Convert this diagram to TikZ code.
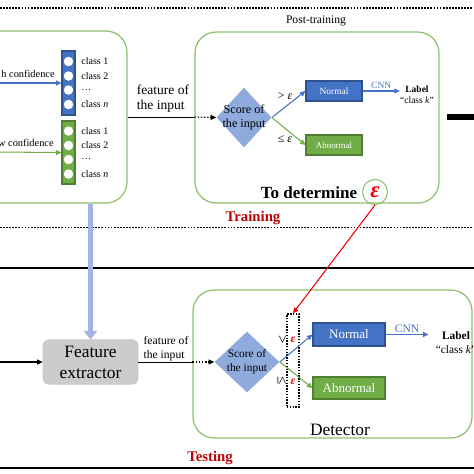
\documentclass[tikz,border=0pt]{standalone}
\usepackage{fontspec}
\setmainfont{Liberation Serif}
\usetikzlibrary{arrows.meta}
\usetikzlibrary{positioning}
\usetikzlibrary{shapes.geometric}
\definecolor{leafgreen}{HTML}{8DC06B}
\definecolor{normblue}{HTML}{4472C4}
\definecolor{normedge}{HTML}{2F528F}
\definecolor{abngreen}{HTML}{70AD47}
\definecolor{abnedge}{HTML}{507E32}
\definecolor{scoreblue}{HTML}{8FAADC}
\definecolor{paleblue}{HTML}{A3B4E4}
\definecolor{darkred}{HTML}{C00000}
\definecolor{brightred}{HTML}{F00000}
\newcommand{\fsz}[2]{\fontsize{#1}{#2}\selectfont}

\begin{document}
\begin{tikzpicture}[
        x=0.02cm, y=-0.02cm,
        grpbox/.style={draw=leafgreen, line width=0.7pt, rounded corners=0.42cm},
        vecbox/.style={minimum width=0.26cm, inner sep=0pt, line width=0.6pt},
        unit/.style={circle, fill=white, minimum size=0.19cm, inner sep=0pt},
        clslbl/.style={font=\fsz{5.7}{6.5}, anchor=west, inner sep=0pt},
        decide/.style={diamond, fill=scoreblue, inner sep=0pt},
        outbox/.style={draw, line width=0.6pt, text=white, inner sep=0pt},
        flow/.style={-{Triangle[length=1.1mm, width=1mm]}, line width=0.6pt},
        feed/.style={-{Triangle[length=1.1mm, width=1mm]}, line width=0.6pt,
          dash pattern=on 0.9pt off 0.9pt},
        sep/.style={line width=1.1pt},
        dotsep/.style={line width=1.1pt, dash pattern=on 1pt off 0.75pt},
        phase/.style={font=\fsz{8.4}{9}\bfseries, text=darkred},
        epstxt/.style={font=\fsz{6.5}{7}\bfseries\itshape, text=brightred, inner sep=0pt},
      ]
      \useasboundingbox (0,0) rectangle (474,474);
      \clip (0,0) rectangle (474,474);

      % === separators ===
      \draw[dotsep] (0,8) -- (474,8);
      \draw[dotsep] (0,227.5) -- (474,227.5);
      \draw[sep] (0,268) -- (474,268);
      \draw[sep] (0,468) -- (474,468);

      % === Training: classifier ===
      \node[grpbox, minimum width=3.34cm, minimum height=3.44cm] (leftbox) at (43.5,117) {};
      \node[vecbox, draw=normedge, fill=normblue, minimum height=1.28cm] (bluecol) at (68.5,83) {};
      \node[vecbox, draw=abnedge, fill=abngreen, minimum height=1.26cm] (greencol) at (68.5,152.5) {};
      \foreach \c/\y in {blue/83, green/152.5} {
        \foreach \i/\dy/\t in {1/-21.5/class 1, 2/-7/class 2, 3/7/\dots, 4/21.5/class \textit{n}} {
          \node[unit] (\c u\i) at (68.5,\y+\dy) {};
          \node[clslbl] (\c l\i) at (81,\y+\dy) {\t};
        }
      }
      \coordinate (hiin) at (-5,83);
      \coordinate (loin) at (-5,152);
      \draw[flow, normblue] (hiin) -- (bluecol.west);
      \draw[flow, abngreen] (loin) -- (greencol.west);
      \node[font=\fsz{5.9}{7}, anchor=east, inner sep=0pt] (hilbl) at (55,74) {h confidence};
      \node[font=\fsz{5.9}{7}, anchor=east, inner sep=0pt] (lolbl) at (54,143) {w confidence};

      % === Training: post-training ===
      \node[grpbox, minimum width=4.88cm, minimum height=3.42cm] (postbox) at (317,117.5) {};
      \node[font=\fsz{6.6}{7}] (postlbl) at (316,21) {Post-training};

      \node[decide, minimum width=1.1cm, minimum height=1.2cm] (dec1) at (244,117.5) {};
      \node[font=\fsz{6.9}{8.4}, align=center, inner sep=0pt] (dec1t) at (dec1) {Score of\\the input};

      \draw (leftbox.east) -- (leftbox.east -| postbox.west);
      \draw[feed] (leftbox.east -| postbox.west) -- (dec1.west);
      \node[font=\fsz{7.7}{8.6}, align=left, inner sep=0pt] (feat1) at (163,99) {feature of\\the input};

      \node[outbox, draw=normedge, fill=normblue, minimum width=1.12cm, minimum height=0.4cm,
        font=\fsz{5.4}{6}] (n1) at (334,91) {Normal};
      \node[outbox, draw=abnedge, fill=abngreen, minimum width=1.12cm, minimum height=0.4cm,
        font=\fsz{5.1}{6}] (a1) at (334,145) {Abnormal};
      \draw[flow, normblue] (dec1.east) -- (n1.west);
      \draw[flow, abngreen] (dec1.east) -- (a1.west);
      \node[font=\fsz{6.8}{7}, inner sep=0pt] (gt1) at (285,96) {> \textit{ε}};
      \node[font=\fsz{6.8}{7}, inner sep=0pt] (le1) at (285,139) {≤ \textit{ε}};

      \node[font=\fsz{5.4}{6.4}, align=center, inner sep=0pt] (lbl1) at (417,95)
        {\textbf{Label}\\“class \textit{k}”};
      \draw[flow, normblue] (n1.east) -- (n1.east -| lbl1.west)
        node[midway, above, font=\fsz{5.4}{6}, inner sep=1pt] (cnn1) {CNN};

      \node[font=\fsz{9.7}{11}\bfseries, inner sep=0pt] (tdet) at (309,193) {To determine};
      \node[circle, draw=leafgreen, line width=0.6pt, minimum size=0.5cm, inner sep=0pt,
        font=\fsz{13}{13}\bfseries\itshape, text=brightred] (epscirc) at (375,192) {ε};
      \node[phase] (trainlbl) at (253,218) {Training};

      \coordinate (barL) at (447,117);
      \coordinate (barR) at (480,117);
      \draw[line width=3pt] (barL) -- (barR);

      % === Testing ===
      \node[draw=black!22, fill=black!20, rounded corners=0.12cm, minimum width=1.9cm,
        minimum height=0.82cm, align=center, font=\fsz{9.9}{12}] (extr) at (90.5,362)
        {Feature\\extractor};
      \draw[-{Triangle[length=1.7mm, width=2.6mm]}, line width=3.4pt, paleblue]
        (extr.north |- leftbox.south) -- (extr.north);
      \coordinate (testin) at (-5,362);
      \draw[flow] (testin) -- (extr.west);

      \node[grpbox, minimum width=5.58cm, minimum height=2.96cm] (detbox) at (332.5,364) {};
      \node[font=\fsz{9.9}{11}, inner sep=0pt] (detlbl) at (340,430) {Detector};
      \node[phase] (testlbl) at (210,458) {Testing};

      \node[decide, minimum width=1.3cm, minimum height=1.22cm] (dec2) at (247,362) {};
      \node[font=\fsz{6.5}{8}, align=center, inner sep=0pt] (dec2t) at (dec2) {Score of\\the input};
      \draw (extr.east) -- (extr.east -| detbox.west);
      \draw[feed] (extr.east -| detbox.west) -- (dec2.west);
      \node[font=\fsz{6.6}{8}, align=left, inner sep=0pt] (feat2) at (166,349) {feature of\\the input};

      \node[outbox, draw=normedge, fill=normblue, minimum width=1.44cm, minimum height=0.46cm,
        font=\fsz{7.4}{8}] (n2) at (349,334.5) {Normal};
      \node[outbox, draw=abnedge, fill=abngreen, minimum width=1.44cm, minimum height=0.44cm,
        font=\fsz{7.4}{8}] (a2) at (349,388) {Abnormal};

      \node[draw, line width=0.8pt, dash pattern=on 0.8pt off 0.8pt, minimum width=0.24cm,
        minimum height=1.86cm, inner sep=0pt] (thr) at (293,360.5) {};
      \draw[flow, normblue] (dec2.east) -- (n2.west);
      \draw[flow, abngreen] (dec2.east) -- (a2.west);
      \node[epstxt] (eps1) at (293,340) {ε};
      \node[epstxt] (eps2) at (293,382) {ε};
      \node[rotate=-90, font=\fsz{8.5}{9}, inner sep=0pt] (gt2) at (282,340) {>};
      \node[rotate=-90, font=\fsz{8.5}{9}, inner sep=0pt] (le2) at (282,381) {≤};

      \draw[flow, brightred] (epscirc.south) -- (thr.north);

      \node[font=\fsz{6.5}{7.6}, align=center, inner sep=0pt] (lbl2) at (456,342.5)
        {\textbf{Label}\\“class \textit{k}”};
      \draw[flow, normblue] (n2.east) -- ([xshift=-0.14cm]n2.east -| lbl2.west)
        node[midway, above, font=\fsz{6.5}{7}, inner sep=1pt] (cnn2) {CNN};

      \end{tikzpicture}
\end{document}
